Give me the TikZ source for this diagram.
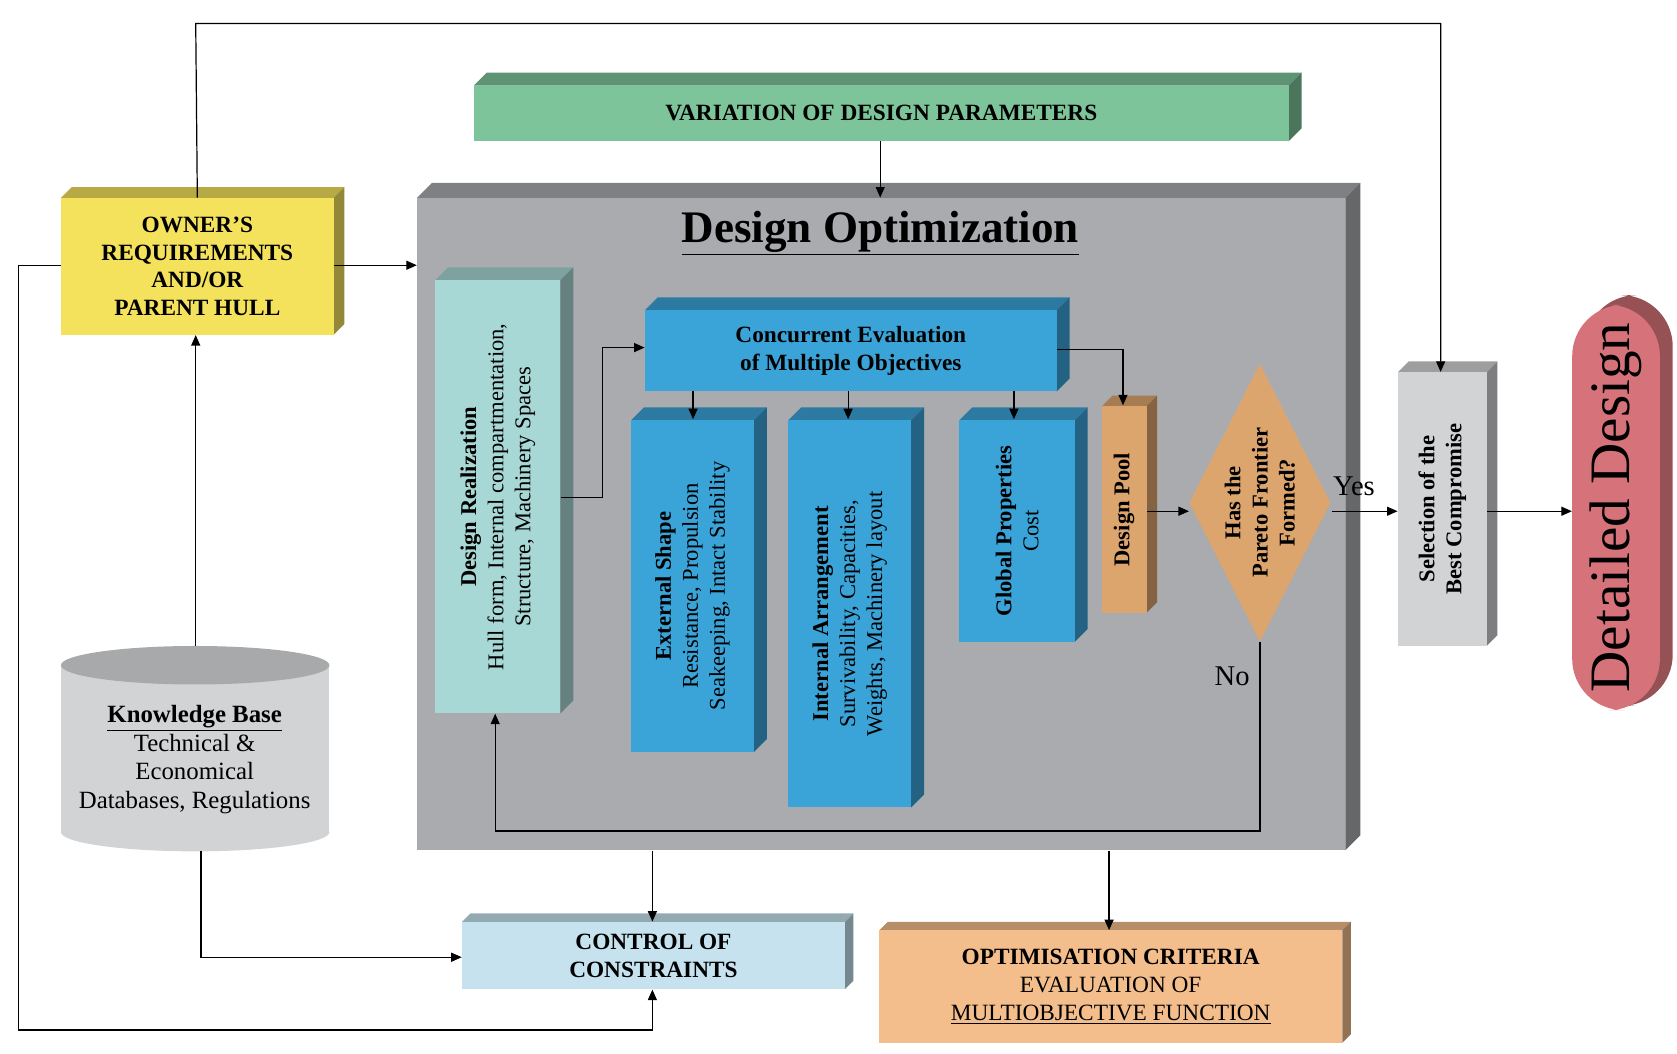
\documentclass[tikz,border=0pt]{standalone}
\usepackage{fontspec}
\setmainfont{Liberation Serif}
\usetikzlibrary{fit,shapes.geometric,arrows.meta}
\definecolor{cgreen}{HTML}{7DC49A}
\definecolor{cgray}{HTML}{A9ABAE}
\definecolor{cyel}{HTML}{F4E25C}
\definecolor{cteal}{HTML}{A8D8D6}
\definecolor{cblue}{HTML}{3AA3D8}
\definecolor{corg}{HTML}{DDA56E}
\definecolor{clgray}{HTML}{D2D3D5}
\definecolor{cred}{HTML}{D6737A}
\definecolor{clblue}{HTML}{C5E2EE}
\definecolor{corg2}{HTML}{F3BE8C}
\newcommand\tdbox[7]{%
 \fill[#5!75!black] (#1,#2) -- ({#1+#6},{#2-#6}) -- ({#3+#6},{#2-#6}) -- (#3,#2) -- cycle;
 \fill[#5!60!black] (#3,#2) -- ({#3+#6},{#2-#6}) -- ({#3+#6},{#4-#6}) -- (#3,#4) -- cycle;
 \node[fit={(#1,#2)(#3,#4)},inner sep=0,fill=#5] (#7) {};}
\tikzset{arr/.style={-{Triangle[length=7pt,width=6pt]},line width=0.8pt},
 bt/.style={font=\fontsize{15}{18}\selectfont,align=center},
 rt/.style={bt,rotate=90},
 bb/.style={bt,font=\fontsize{15.5}{18.5}\selectfont\bfseries}}
\begin{document}
\begin{tikzpicture}[x=0.025cm,y=-0.025cm]
\useasboundingbox (0,0) rectangle (1568,985);
% boxes
\tdbox{443}{80}{1205}{132}{cgreen}{12}{var}
\node[bb] at (var) {VARIATION OF DESIGN PARAMETERS};
\tdbox{390}{185}{1258}{795}{cgray}{14}{opt}
\node[font=\fontsize{30}{33}\selectfont\bfseries] at (823,218) {\underline{Design Optimization}};
\tdbox{57}{185}{312}{313}{cyel}{10}{own}
\node[bb] at (own) {OWNER'S\\REQUIREMENTS\\AND/OR\\PARENT HULL};
\tdbox{407}{262}{524}{667}{cteal}{12}{real}
\node[rt] at (real) {\textbf{Design Realization}\\Hull form, Internal compartmentation,\\Structure, Machinery Spaces};
\tdbox{603}{290}{988}{366}{cblue}{12}{conc}
\node[bb] at (conc) {Concurrent Evaluation\\of Multiple Objectives};
\tdbox{590}{393}{705}{703}{cblue}{12}{ext}
\node[rt] at (ext) {\textbf{External Shape}\\Resistance, Propulsion\\Seakeeping, Intact Stability};
\tdbox{737}{393}{852}{755}{cblue}{12}{int}
\node[rt] at (int) {\textbf{Internal Arrangement}\\Survivability, Capacities,\\Weights, Machinery layout};
\tdbox{897}{393}{1005}{600}{cblue}{12}{glob}
\node[rt] at (glob) {\textbf{Global Properties}\\Cost};
\tdbox{1030}{380}{1072}{573}{corg}{10}{pool}
\node[rt,font=\fontsize{15}{17}\selectfont\bfseries] at (pool) {Design Pool};
\node[diamond,draw=none,fill=corg,minimum width=3.3cm,minimum height=6.5cm,inner sep=0] (dia) at (1178,470) {};
\node[rt,font=\fontsize{15}{18}\selectfont\bfseries] at (dia) {Has the\\Pareto Frontier\\Formed?};
\tdbox{1307}{348}{1390}{604}{clgray}{10}{sel}
\node[rt,font=\fontsize{15}{18}\selectfont\bfseries] at (sel) {Selection of the\\Best Compromise};
\fill[cred!70!black,rounded corners=1.2cm] (1482,276) rectangle (1564,660);
\node[fit={(1470,285)(1552,664)},inner sep=0,fill=cred,rounded corners=1.2cm] (det) {};
\node[rotate=90,font=\fontsize{38}{42}\selectfont] at (det) {Detailed Design};
% cylinder
\fill[clgray] (57,622) rectangle (308,778);
\fill[clgray] (182.5,778) ellipse [x radius=125.5, y radius=18];
\fill[clgray!80!black] (182.5,622) ellipse [x radius=125.5, y radius=18];
\node[fit={(57,604)(308,796)},inner sep=0] (kb) {};
\node[bt,font=\fontsize{16.5}{19}\selectfont] at (182,710) {\textbf{\underline{Knowledge Base}}\\Technical \&\\Economical\\Databases, Regulations};
\tdbox{432}{862}{790}{925}{clblue}{8}{ctrl}
\node[bb] at (ctrl) {CONTROL OF\\CONSTRAINTS};
\tdbox{822}{870}{1255}{975}{corg2}{8}{crit}
\node[bt,font=\fontsize{15.5}{18.5}\selectfont] at (crit) {\textbf{OPTIMISATION CRITERIA}\\EVALUATION OF\\\underline{MULTIOBJECTIVE FUNCTION}};
% arrows
\draw[arr] (own.north) -- (183,22) -| (sel.north -| 1347,0);
\draw[arr] (312,248) -- (opt.west |- 0,248);
\draw[arr] (57,248) -- (17,248) |- (610,963) -- (ctrl.south -| 610,0);
\draw[arr] (kb.north -| 183,0) -- (own.south -| 183,0);
\draw[arr] (188,796) |- (ctrl.west |- 0,895);
\draw[arr] (var.south -| 823,0) -- (opt.north -| 823,0);
\draw[arr] (real.east |- 0,465) -- (563,465) |- (conc.west |- 0,325);
\foreach \xx in {648,793,948} \draw[arr] (\xx,366) -- (\xx,392);
\draw[arr] (988,327) -| (1050,379);
\draw[arr] (pool.east |- 0,478) -- (dia.west |- 0,478);
\draw[arr] (1245,478) -- (sel.west |- 0,478);
\node[font=\fontsize{19}{22}\selectfont] at (1266,455) {Yes};
\draw[arr] (dia.south) -- (1178,777) -| (real.south -| 463,0);
\node[font=\fontsize{19}{22}\selectfont] at (1152,632) {No};
\draw[arr] (sel.east |- 0,478) -- (det.west |- 0,478);
\draw[arr] (opt.south -| 610,0) -- (ctrl.north -| 610,0);
\draw[arr] (opt.south -| 1037,0) -- (crit.north -| 1037,0);
\end{tikzpicture}
\end{document}
